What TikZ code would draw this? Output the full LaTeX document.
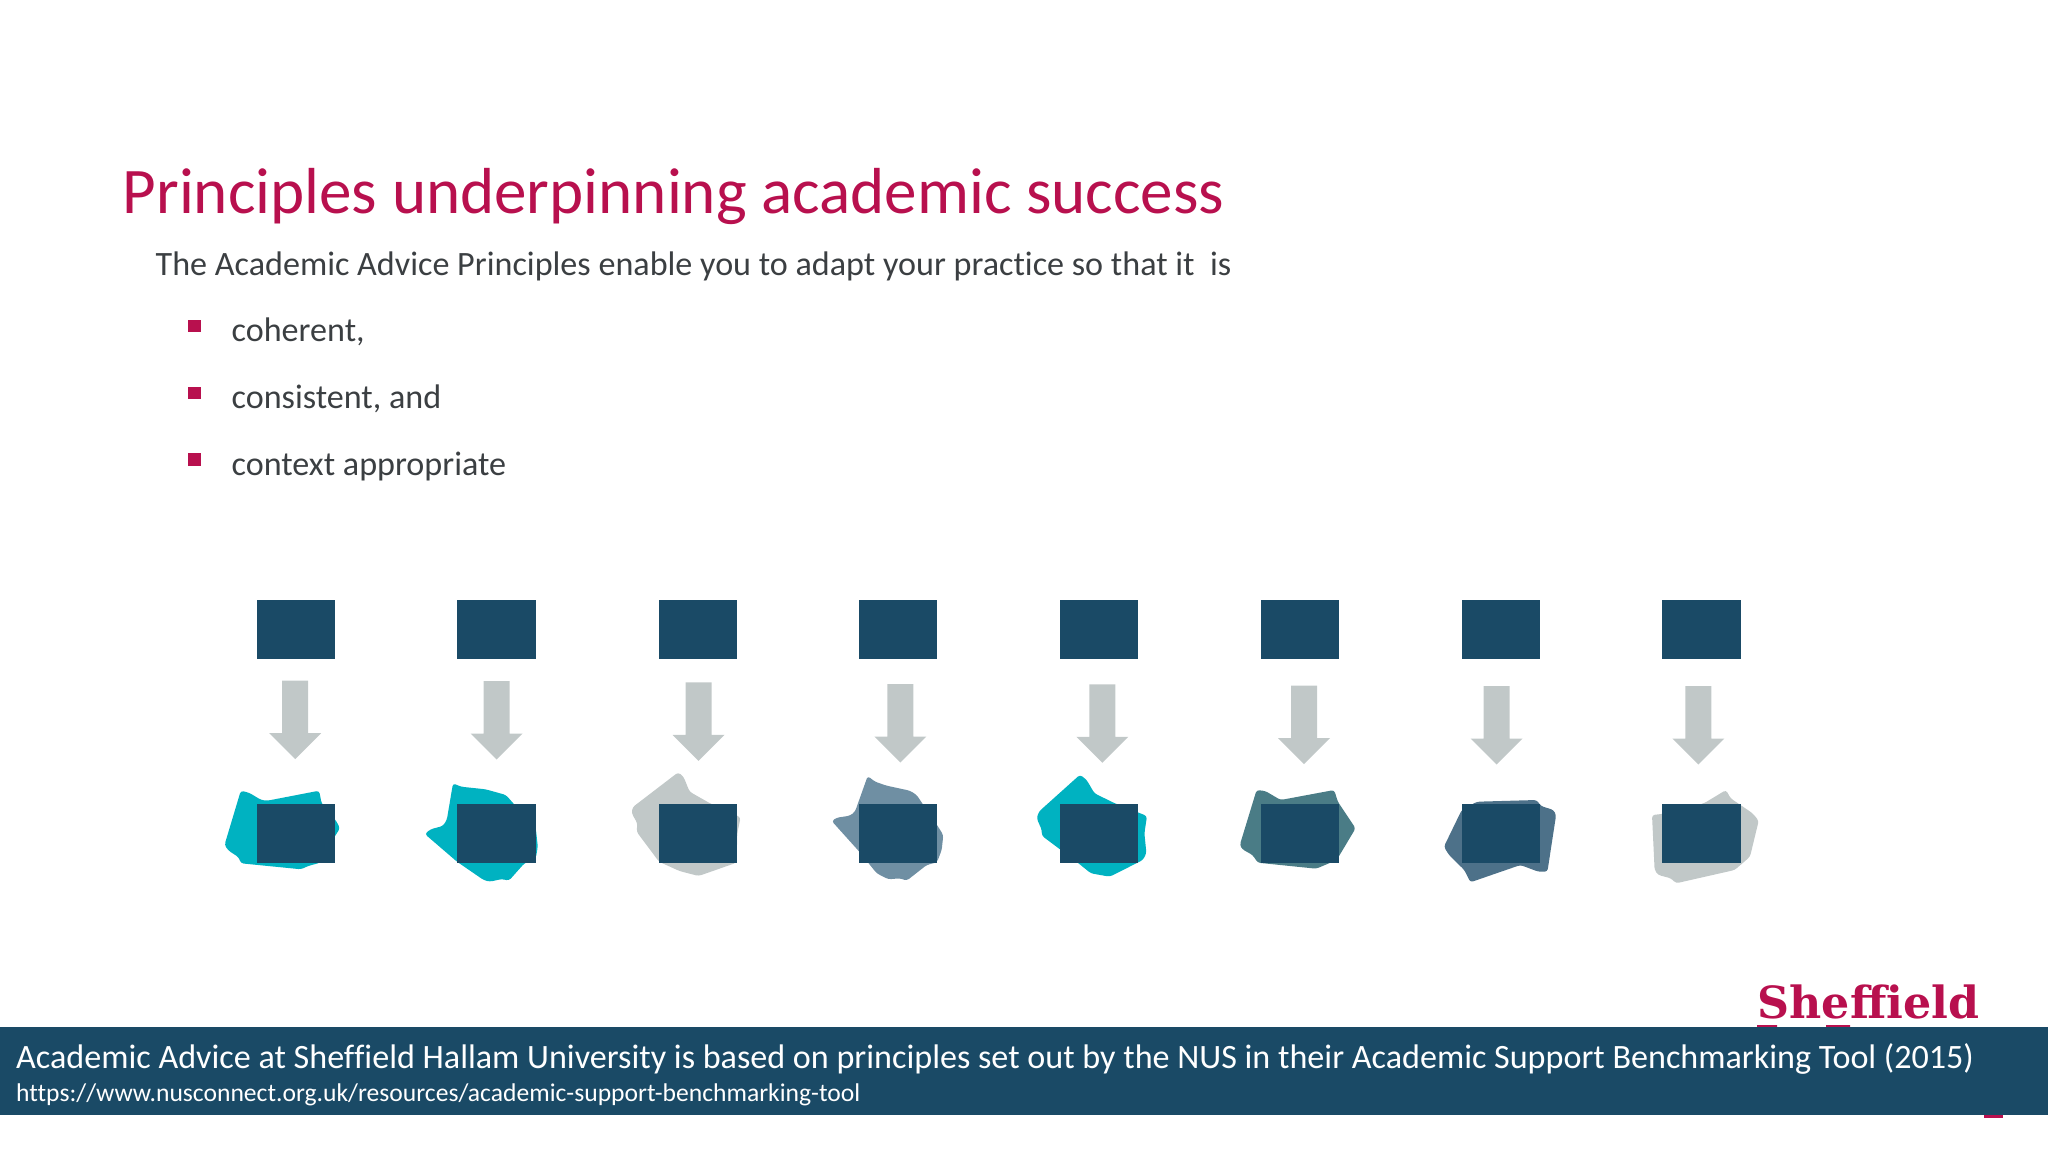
\documentclass[tikz,border=0pt]{standalone}
\usepackage{fontspec}
\setmainfont[Ligatures=NoCommon]{Carlito}
\newfontfamily\logofont{DejaVu Serif}
\definecolor{navy}{HTML}{1A4A66}
\definecolor{crimson}{HTML}{B8104E}
\definecolor{bodygrey}{HTML}{3B3F42}
\definecolor{arrowgrey}{HTML}{C1C8C8}
\definecolor{tealblob}{HTML}{00B2C1}
\definecolor{slateblob}{HTML}{6F8FA3}
\definecolor{pineblob}{HTML}{4A7C86}
\definecolor{steelblob}{HTML}{4D7189}
\tikzset{
  boxnode/.style={fill=navy,minimum width=0.78cm,minimum height=0.59cm,inner sep=0pt},
  textnode/.style={anchor=base west,inner sep=0pt,text=bodygrey,font=\fontsize{9.7}{12}\selectfont},
  bulletnode/.style={fill=crimson,minimum size=0.12cm,inner sep=0pt},
  blobshape/.style={rounded corners=0.8pt},
}
\begin{document}
\begin{tikzpicture}[x=0.01cm,y=-0.01cm]
\useasboundingbox (0,0) rectangle (2048,1152);

\node[textnode,text=crimson,font=\fontsize{18.5}{22}\selectfont] (title) at (122,213.5) {Principles underpinning academic success};
\node[textnode] (intro) at (155,275.5) {The Academic Advice Principles enable you to adapt your practice so that it\ \ is};

\foreach \n/\y/\t in {a/342/coherent{,}, b/408.7/{consistent, and}, c/475.5/context appropriate} {
  \node[bulletnode] (bullet\n) at (194.5,\y-16) {};
  \node[textnode] (item\n) at (231,\y) {\t};
}

% blobs behind the lower boxes
\fill[tealblob,blobshape] (240.8,790.7) -- (249,792.7) -- (261.2,800) -- (267.3,800.7) -- (319.1,790.7) -- (321.6,803.3) -- (336.7,821.7) -- (340,828.3) -- (334.6,836.7) -- (320.4,862.7) -- (308,866) -- (301.2,869.3) -- (240.8,863.3) -- (238.8,857.3) -- (228.6,850.7) -- (224.5,845) -- cycle;
\fill[tealblob,blobshape] (453,783.3) -- (461,786.7) -- (485.6,789.3) -- (506,795) -- (516.2,806.7) -- (535.8,828.3) -- (537.8,846.7) -- (535.8,858.3) -- (524.4,863.3) -- (508.9,880.7) -- (501.9,879) -- (489.7,881.7) -- (483.6,880) -- (457,861.7) -- (424.8,834) -- (430.5,829.3) -- (442.8,826) -- (446.8,820) -- cycle;
\fill[arrowgrey,blobshape] (678.2,772.3) -- (683.5,776.7) -- (689.6,791.7) -- (710,803.3) -- (740.6,817.3) -- (737.3,833.3) -- (736.5,862.7) -- (698.6,876) -- (679.4,871) -- (659,861.7) -- (636.6,831.7) -- (637.4,823.3) -- (631.7,813.3) -- (632.5,807.3) -- cycle;
\fill[slateblob,blobshape] (867.7,776) -- (875,781.7) -- (886.7,785.7) -- (910,790.7) -- (916.7,795) -- (922.7,804) -- (937,825) -- (943.3,835) -- (941.7,850) -- (937,862.3) -- (926.7,865) -- (906.7,880.7) -- (900,878.3) -- (888.3,879.3) -- (876.7,873.3) -- (859.3,851.7) -- (831.7,821) -- (836.7,817.7) -- (850,815.7) -- (855,811.7) -- cycle;
\fill[tealblob,blobshape] (1080,774.7) -- (1086.7,780) -- (1094.4,793.3) -- (1114.8,803.3) -- (1147,816) -- (1144.4,833.3) -- (1146.4,853.3) -- (1142.9,860) -- (1109.7,876.7) -- (1090.8,873.3) -- (1076.5,861.7) -- (1041.8,835.7) -- (1041.8,830) -- (1036.7,818.3) -- (1038.8,811.7) -- cycle;
\fill[pineblob,blobshape] (1256.6,790) -- (1265.3,791) -- (1280.6,800) -- (1334.2,790) -- (1337.8,801.7) -- (1355.6,828.3) -- (1336.7,860) -- (1316.3,868.7) -- (1257.7,862.7) -- (1252.6,855) -- (1242.3,849.3) -- (1239.8,845) -- cycle;
\fill[steelblob,blobshape] (1477,801.7) -- (1536.7,800) -- (1540.8,806) -- (1553.6,810) -- (1556.1,815) -- (1547.4,871.7) -- (1538.3,871.7) -- (1520.4,865) -- (1470.4,882.3) -- (1464.3,870) -- (1449,855) -- (1443.9,846.7) -- (1461.7,810) -- cycle;
\fill[arrowgrey,blobshape] (1726,790) -- (1730.6,798.3) -- (1752.6,813.3) -- (1758.7,820.7) -- (1750,856.7) -- (1734.7,870) -- (1676,883.3) -- (1671,878.3) -- (1658.2,875) -- (1654.6,870) -- (1652,815) -- (1662,814) -- (1704,803.3) -- cycle;

\foreach \i/\x in {1/296,2/496.5,3/698,4/898,5/1099,6/1300,7/1501,8/1701.5} {
  \node[boxnode] (top\i) at (\x,629.5) {};
  \node[boxnode] (low\i) at (\x,833.3) {};
}

% block arrows
\foreach \x/\t in {295.2/680.7,496.7/681,698.5/682.3,900.4/684,1102.4/684.3,1304/685.7,1496.7/686,1698.4/686} {
  \fill[arrowgrey] (\x-13,\t) -- (\x+13,\t) -- (\x+13,\t+52.5) -- (\x+26,\t+52.5) -- (\x,\t+78.5) -- (\x-26,\t+52.5) -- (\x-13,\t+52.5) -- cycle;
}

% logo, partly hidden by the band
\node[anchor=base west,inner sep=0pt,text=crimson,font=\logofont\bfseries\fontsize{12.6}{15}\selectfont] (logo) at (1757,1018.5) {Sheffield};
\fill[crimson] (1757,1025) rectangle (1777,1028) (1826,1025) rectangle (1850,1028);
\fill[crimson] (1984,1112) rectangle (2003,1117.5);

\fill[navy] (0,1027) rectangle (2048,1115);
\node[textnode,text=white,font=\fontsize{9.7}{12}\selectfont] (source) at (15.5,1068) {Academic Advice at Sheffield Hallam University is based on principles set out by the NUS in their Academic Support Benchmarking Tool (2015)};
\node[textnode,text=white,font=\fontsize{7.28}{9}\selectfont] (link) at (15.5,1101) {https://www.nusconnect.org.uk/resources/academic-support-benchmarking-tool};
\end{tikzpicture}
\end{document}
